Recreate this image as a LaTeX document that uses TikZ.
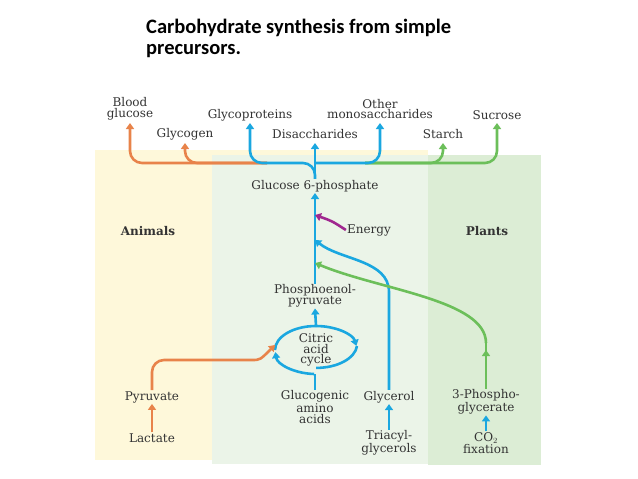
\documentclass[tikz,border=0pt]{standalone}
\usepackage{fontspec}
\newfontfamily\titlefont{Carlito}
\newfontfamily\lblfont{DejaVu Serif}
\usetikzlibrary{arrows.meta}
\definecolor{cOr}{HTML}{E8834A}
\definecolor{cBl}{HTML}{1AA7E0}
\definecolor{cGr}{HTML}{6CBF5A}
\definecolor{cPu}{HTML}{A0278F}
\definecolor{bgY}{HTML}{FEF8DA}
\definecolor{bgM}{HTML}{EBF4E8}
\definecolor{bgR}{HTML}{DCEDD5}
\begin{document}
\begin{tikzpicture}[x=1pt,y=-1pt,
  lbl/.style={font=\lblfont\fontsize{12}{10.8}\selectfont, align=center, inner sep=1pt, text=black!80},
  bl/.style={font=\lblfont\fontsize{12}{10.8}\selectfont\bfseries, text=black!80},
  tip/.style={-{Triangle[width=8pt,length=6pt]}},
  path/.style={line width=2.6pt, tip, rounded corners=12pt},
  nf/.style={line width=2.6pt}]
\useasboundingbox (0,0) rectangle (638,479);
\fill[white] (0,0) rectangle (638,479);
% backgrounds
\fill[bgY] (95,150) rectangle (428,460);
\fill[bgM] (212,155) rectangle (428,464);
\fill[bgR] (428,155) rectangle (541,465);
% title
\node[anchor=north west, font=\titlefont\fontsize{20.5}{21}\selectfont\bfseries, align=left, inner sep=0] (title) at (146,19) {Carbohydrate synthesis from simple\\precursors.};
% labels
\node[lbl] (blood) at (130,109) {Blood\\glucose};
\node[lbl] (glycogen) at (185,134) {Glycogen};
\node[lbl] (glycoprot) at (250,115) {Glycoproteins};
\node[lbl] (other) at (380,109) {Other\\monosaccharides};
\node[lbl] (disacc) at (315,134) {Disaccharides};
\node[lbl] (starch) at (443,134) {Starch};
\node[lbl] (sucrose) at (497,115) {Sucrose};
\node[lbl] (g6p) at (315,186) {Glucose 6-phosphate};
\node[lbl] (energy) at (369,230) {Energy};
\node[bl] (animals) at (148,231) {Animals};
\node[bl] (plants) at (487,231) {Plants};
\node[lbl] (pep) at (315,296) {Phosphoenol-\\pyruvate};
\node[lbl] (cac) at (316,350) {Citric\\acid\\cycle};
\node[lbl] (pyr) at (152,397) {Pyruvate};
\node[lbl] (lac) at (152,438) {Lactate};
\node[lbl] (gaa) at (315,407) {Glucogenic\\amino\\acids};
\node[lbl] (glycerol) at (389,397) {Glycerol};
\node[lbl] (tag) at (389,443) {Triacyl-\\glycerols};
\node[lbl] (pg) at (486,402) {3-Phospho-\\glycerate};
\node[lbl] (co2) at (486,443) {CO$_2$\\fixation};
% coordinates
\coordinate (jA) at (315,240);
\coordinate (jB) at (315,263);
% top distribution
\draw[path,cOr] (267,163) -- (130,163) -- (130,123);
\draw[path,cOr] (267,163) -- (185,163) -- (185,143);
\draw[path,cGr] (365,163) -- (497,163) -- (497,123);
\draw[path,cGr] (365,163) -- (443,163) -- (443,143);
\draw[path,cBl] (g6p.north) -- (315,163) -- (250,163) -- (250,123);
\draw[path,cBl] (315,163) -- (380,163) -- (380,123);
\draw[path,cBl] (g6p.north) -- (315,143);
% trunk
\draw[path,cBl] (pep.north) -- (g6p.south);
\draw[nf,cPu,tip] (energy.west) .. controls (332,221) .. (315,215);
\draw[nf,cBl,tip] (glycerol.north) -- (389,292) .. controls (389,260) and (340,260) .. (jA);
\draw[nf,cGr,tip] (486,343) .. controls (486,300) and (380,290) .. (jB);
\draw[path,cGr] (pg.north) -- (486,350);
\draw[nf,cGr] (486,355) -- (486,343);
% cycle (y axis flipped: top = 270)
\draw[nf,cBl,tip] (316,326) -- (pep.south);
\draw[nf,cBl,tip] (316,326) arc (270:350:41 and 24);
\draw[nf,cBl] (357,346) arc (365:450:41 and 24);
\draw[nf,cBl,tip] (314,374) arc (93:175:41 and 24);
\draw[nf,cBl] (275,350) arc (180:270:41 and 24);
\draw[nf,cBl] (gaa.north) -- (315,374);
% orange pyruvate
\draw[path,cOr] (pyr.north) -- (152,360) -- (240,360) .. controls (260,360) .. (275,345);
\draw[path,cOr] (lac.north) -- (pyr.south);
\draw[path,cBl] (tag.north) -- (glycerol.south);
\draw[path,cBl] (co2.north) -- (pg.south);
\end{tikzpicture}
\end{document}
